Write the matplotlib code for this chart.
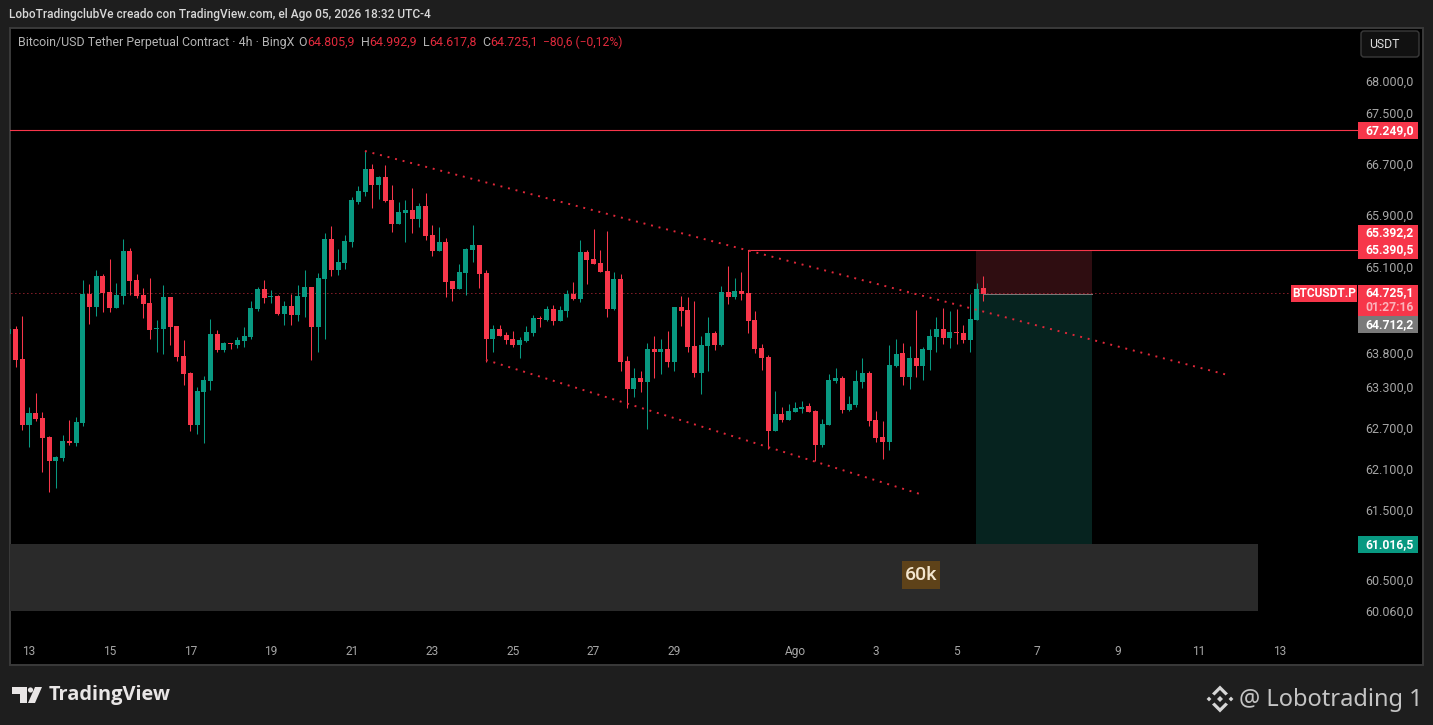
import matplotlib
matplotlib.use("Agg")
import matplotlib.pyplot as plt
from matplotlib.patches import Rectangle, Polygon, Circle, FancyBboxPatch
from matplotlib.transforms import ScaledTranslation
import numpy as np

plt.rcParams['font.family'] = ['Roboto', 'DejaVu Sans']

opens = [64111,64186,63742,62763,62940,62867,62588,62236,62280,62529,62500,62793,64720,64523,64994,64750,64508,64690,65375,64933,
64710,64584,64191,64191,64675,64236,63787,63533,62763,63251,63414,64116,63877,63981,63951,64011,64071,64493,64796,64675,
64690,64418,64538,64403,64675,64827,64221,64948,65559,65085,65192,65513,66130,66285,66643,66394,66518,66160,65790,65960,
66006,65867,66068,65620,65375,65513,64918,64796,65040,65391,65467,65040,64041,64191,64101,64041,63951,64011,64131,64357,
64327,64493,64312,64463,64720,64645,65360,65253,65191,65070,64493,64948,63712,63295,63459,63399,63892,63847,63892,63697,
64523,64478,63936,63533,63936,64131,63951,64751,64675,64766,64736,64327,63907,63772,62676,62926,62837,62955,63000,63044,
62970,62470,62763,63414,63459,62985,63059,63399,63533,62837,62588,62514,63637,63832,63473,63757,63637,63877,64071,64191,
64056,64146,64131,64026,64327,64805.9]
closes = [64186,63727,62763,62940,62852,62573,62236,62295,62529,62500,62807,64720,64523,64994,64735,64508,64710,65375,64918,64690,
64569,64176,64206,64675,64221,63772,63518,62763,63266,63429,64116,63877,63981,63966,64026,64086,64508,64796,64660,64690,
64418,64538,64403,64690,64827,64221,64964,65559,65085,65207,65528,66160,66301,66643,66394,66518,66145,65790,65975,66006,
65867,66068,65605,65375,65513,64903,64796,65055,65406,65467,65024,64041,64191,64086,64026,63951,64026,64146,64357,64342,
64493,64312,64478,64720,64645,65360,65237,65176,65055,64493,64948,63697,63295,63459,63399,63892,63847,63892,63697,64523,
64463,63921,63533,63951,64131,63951,64751,64675,64766,64720,64312,63892,63757,62676,62926,62837,62970,63015,63029,62955,
62470,62778,63429,63459,62985,63074,63414,63533,62822,62573,62514,63652,63817,63473,63757,63637,63892,64086,64191,64056,
64146,64131,64026,64342,64796,64725.1]
highs = [64186,64236,64387,63029,63236,62955,62603,62310,62617,62837,62881,64933,64872,65085,65024,65252,64887,65559,65421,65024,
64812,64964,64327,64857,64675,64236,64026,63548,63325,63488,64342,64176,63996,63981,64071,64221,64614,64827,64933,64781,
64705,64614,64720,64857,65085,64827,65040,65652,65760,65406,65620,66207,66378,66925,66721,66534,66705,66394,66130,66160,
66347,66114,66270,65775,65744,65574,64918,65177,65421,65775,65467,65085,64252,64252,64146,64161,64071,64237,64403,64387,
64538,64554,64538,64781,64903,65544,65391,65714,65391,65683,65055,65024,63787,63608,63563,63982,64086,64041,64161,64523,
64690,64675,64614,64086,64372,64161,64842,65146,64964,65055,65390,64463,63966,63802,63266,63029,63074,63103,63118,63089,
62985,62852,63518,63607,63488,63192,63578,63757,63563,62970,62822,63951,64041,63981,63937,64478,63922,64191,64372,64508,
64463,64493,64252,64720,64887,64992.9]
lows = [64111,63622,62690,62441,62822,62075,61785,61843,62236,62471,62456,62749,64267,64387,64448,64448,64508,64569,64705,64660,
64357,64041,63847,63817,63951,63712,63355,62676,62632,62500,63281,63847,63847,63892,63907,63922,64041,64463,64584,64584,
64403,64252,64252,64312,64372,63727,63847,64041,64994,65009,65100,65436,66099,66223,66037,66176,66130,65667,65790,65513,
65652,65744,65544,65299,65375,64675,64614,64796,64705,65207,64812,63697,63847,64086,63966,63922,63757,63996,64086,64222,
64312,64252,64312,64372,64629,64599,64872,65176,65055,64372,64478,63563,63015,63177,63251,62705,63459,63518,63622,63563,
64237,63847,63474,63221,63563,63877,63936,64569,64645,64629,64131,63832,63578,62412,62676,62807,62837,62955,62940,62955,
62236,62441,62763,63384,62940,62970,63029,63310,62749,62514,62265,62398,63622,63355,63295,63473,63429,63578,63847,63966,
63907,63966,63981,63847,64327,64617.8]

price_ticks = [68000, 67500, 66700, 65900, 65100, 63800, 63300, 62700, 62100, 61500, 60500, 60060]
price_labels = ['68.000,0', '67.500,0', '66.700,0', '65.900,0', '65.100,0', '63.800,0', '63.300,0', '62.700,0',
                '62.100,0', '61.500,0', '60.500,0', '60.060,0']
day_ticks = [0, 2, 4, 6, 8, 10, 12, 14, 16, 19, 21, 23, 25, 27, 29, 31]
day_labels = ['13', '15', '17', '19', '21', '23', '25', '27', '29', 'Ago', '3', '5', '7', '9', '11', '13']

resistance = 67249.0
stop_level = 65390.5
last_price = 64735
entry = 64712.2
stop = 65392.2
target = 61030
zone_low, zone_high = 60085, 61030
upper_trend = ([8.33, 29.74], [66925, 63500])
lower_trend = ([11.33, 22.07], [63727, 61760])
position_days = (23.48, 26.36)

RED = '#f7364a'
GREEN = '#089981'
W, H = 1433, 725
L, R_, T, B = 10, 1358, 28, 637
fig = plt.figure(figsize=(W/100, H/100), dpi=100, facecolor='#1e1e1e')

bg = fig.add_axes([0, 0, 1, 1], zorder=0)
bg.set_xlim(0, W); bg.set_ylim(H, 0); bg.axis('off')
bg.add_patch(Rectangle((10, 28), 1413, 637, facecolor='black', edgecolor='#3a3a3a', linewidth=1.4))

ax = fig.add_axes([L/W, 1-B/H, (R_-L)/W, (B-T)/H], zorder=1)
ax.patch.set_alpha(0)
ax.set_yscale('log')
ax.set_xlim((L-29)/40.33, (R_-29)/40.33)
ax.set_ylim(59721, 68882)
for s in ax.spines.values():
    s.set_visible(False)

n = len(opens)
assert n == len(closes) == len(highs) == len(lows)
days = (np.arange(n) - 3) / 6
o, c, h, l = map(np.array, (opens, closes, highs, lows))
cols = [GREEN if a >= b else RED for a, b in zip(c, o)]

# zones
ax.fill_between([-1, 30.47], zone_low, zone_high, color='#2a2a2a', lw=0, zorder=1)
ax.fill_between(position_days, entry, stop, color='#2f0d11', lw=0, zorder=1)
ax.fill_between(position_days, target, entry, color='#06231f', lw=0, zorder=1)
ax.plot([days[145], position_days[1]], [entry, entry], color='#777777', lw=0.72, zorder=3.5)

# levels
ax.plot([-1, 40], [resistance]*2, color=RED, lw=0.8, zorder=2, snap=True)
ax.plot([days[110], 40], [stop_level]*2, color=RED, lw=0.8, zorder=2, snap=True)
ax.plot([-1, 31.29], [last_price]*2, color=RED, lw=0.72, ls=(0, (0.8, 3.2)), zorder=2)

# candles
wicks = ax.vlines(days, l, h, colors=cols, lw=0.75, zorder=3)
wicks.set_snap(True)
ax.bar(days, np.abs(c-o), bottom=np.minimum(o, c), width=0.124, color=cols, lw=0, zorder=3.1)

# trend lines
for xs, ys in (upper_trend, lower_trend):
    ax.plot(xs, ys, color='#e0283a', lw=1.4, ls=(0, (1, 3)), zorder=4)

ax.yaxis.tick_right()
ax.set_yticks(price_ticks, price_labels)
ax.minorticks_off()
ax.set_xticks(day_ticks, day_labels)
ax.tick_params(axis='y', length=0, pad=4.9, labelsize=9, labelcolor='#a6a6a6')
ax.tick_params(axis='x', length=0, pad=6.0, labelsize=8.6, labelcolor='#a6a6a6')
for t in ax.get_yticklabels():
    t.set_transform(t.get_transform() + ScaledTranslation(0, 0.02, fig.dpi_scale_trans))

fg = fig.add_axes([0, 0, 1, 1], zorder=3)
fg.set_xlim(0, W); fg.set_ylim(H, 0); fg.axis('off')

def tag(x0, x1, y0, y1, color):
    fg.add_patch(Rectangle((x0, y0), x1-x0, y1-y0, facecolor=color, edgecolor='none'))

def label(x, y, s, color='white', size=8.7, weight='bold', ha='left', **kw):
    fg.text(x, y, s, color=color, fontsize=size, fontweight=weight, ha=ha, va='center', **kw)

# 60k note
tag(902, 940, 561, 589, '#5e4219')
label(921, 575.5, '60k', color='#f3e6cf', size=14, weight='medium', ha='center')

# right tags
tag(1358, 1418, 122, 139, RED); label(1365.5, 130.3, '67.249,0')
tag(1358, 1418, 225, 259, RED); label(1365.5, 233, '65.392,2'); label(1365.5, 250, '65.390,5')
tag(1358, 1418, 285, 316, RED); label(1365.5, 293, '64.725,1'); label(1365.5, 307, '01:27:16', color='#fbb4bc')
tag(1358, 1418, 316, 333, '#7a7a7a'); label(1365.5, 324.5, '64.712,2')
tag(1358, 1418, 536, 553, GREEN); label(1365.5, 544.5, '61.016,5')
tag(1291, 1357, 285, 302, RED); label(1324, 293.5, 'BTCUSDT.P', ha='center', size=8.6)

# unit button
fg.add_patch(FancyBboxPatch((1363, 33), 54, 22, boxstyle='round,pad=2,rounding_size=3',
                            facecolor='#111111', edgecolor='#3a3a3a', linewidth=1))
label(1384, 44.5, 'USDT', color='#dddddd', size=8.8, weight='normal', ha='center')

# header
label(9, 14, 'LoboTradingclubVe creado con TradingView.com, el Ago 05, 2026 18:32 UTC-4',
      color='#d8d8d8', size=8.55, weight='medium')
label(18, 42, 'Bitcoin/USD Tether Perpetual Contract · 4h · BingX', color='#b5b5b5', size=8.9, weight='normal')
for x, a, b in ((298, 'O', '64.805,9'), (361, 'H', '64.992,9'), (423, 'L', '64.617,8'), (482, 'C', '64.725,1')):
    label(x, 42, a, color='#b5b5b5', size=8.9, weight='normal')
    label(x + {'O': 9.5, 'H': 8, 'L': 6.5, 'C': 8}[a], 42, b, color='#e02a3c', size=8.9, weight='normal')
label(543, 42, '−80,6 (−0,12%)', color='#e02a3c', size=8.7, weight='normal')

# TradingView logo
logo = '#e9e6e6'
fg.add_patch(Polygon([(12, 687), (27, 687), (27, 703), (20, 703), (20, 694), (12, 694)], facecolor=logo, edgecolor='none'))
fg.add_patch(Circle((30.5, 690), 2.6, facecolor=logo, edgecolor='none'))
fg.add_patch(Polygon([(35, 687), (42, 687), (35, 703), (28, 703)], facecolor=logo, edgecolor='none'))
fg.text(49, 695, 'TradingView', color=logo, fontsize=14.4, fontweight='bold', family=['Open Sans', 'DejaVu Sans'], ha='left', va='center')

# Binance mark and watermark
mark = '#d6d6d6'
cx, cy = 1220, 699
def dia(dx, dy, r):
    fg.add_patch(Polygon([(cx+dx, cy+dy-r), (cx+dx+r, cy+dy), (cx+dx, cy+dy+r), (cx+dx-r, cy+dy)], facecolor=mark, edgecolor='none'))
dia(0, 0, 3); dia(-11, 0, 2.4); dia(11, 0, 2.4)
fg.add_patch(Polygon([(cx, cy-13.5), (cx+8, cy-5.5), (cx+5.5, cy-3.5), (cx, cy-9), (cx-5.5, cy-3.5), (cx-8, cy-5.5)], facecolor=mark, edgecolor='none'))
fg.add_patch(Polygon([(cx, cy+13.5), (cx+8, cy+5.5), (cx+5.5, cy+3.5), (cx, cy+9), (cx-5.5, cy+3.5), (cx-8, cy+5.5)], facecolor=mark, edgecolor='none'))
fg.text(1239, 700, '@ Lobotrading 1', color='#c4c4c4', fontsize=17, family=['Noto Sans', 'DejaVu Sans'], ha='left', va='center')

fig.savefig('out.png', dpi=100, facecolor=fig.get_facecolor())
